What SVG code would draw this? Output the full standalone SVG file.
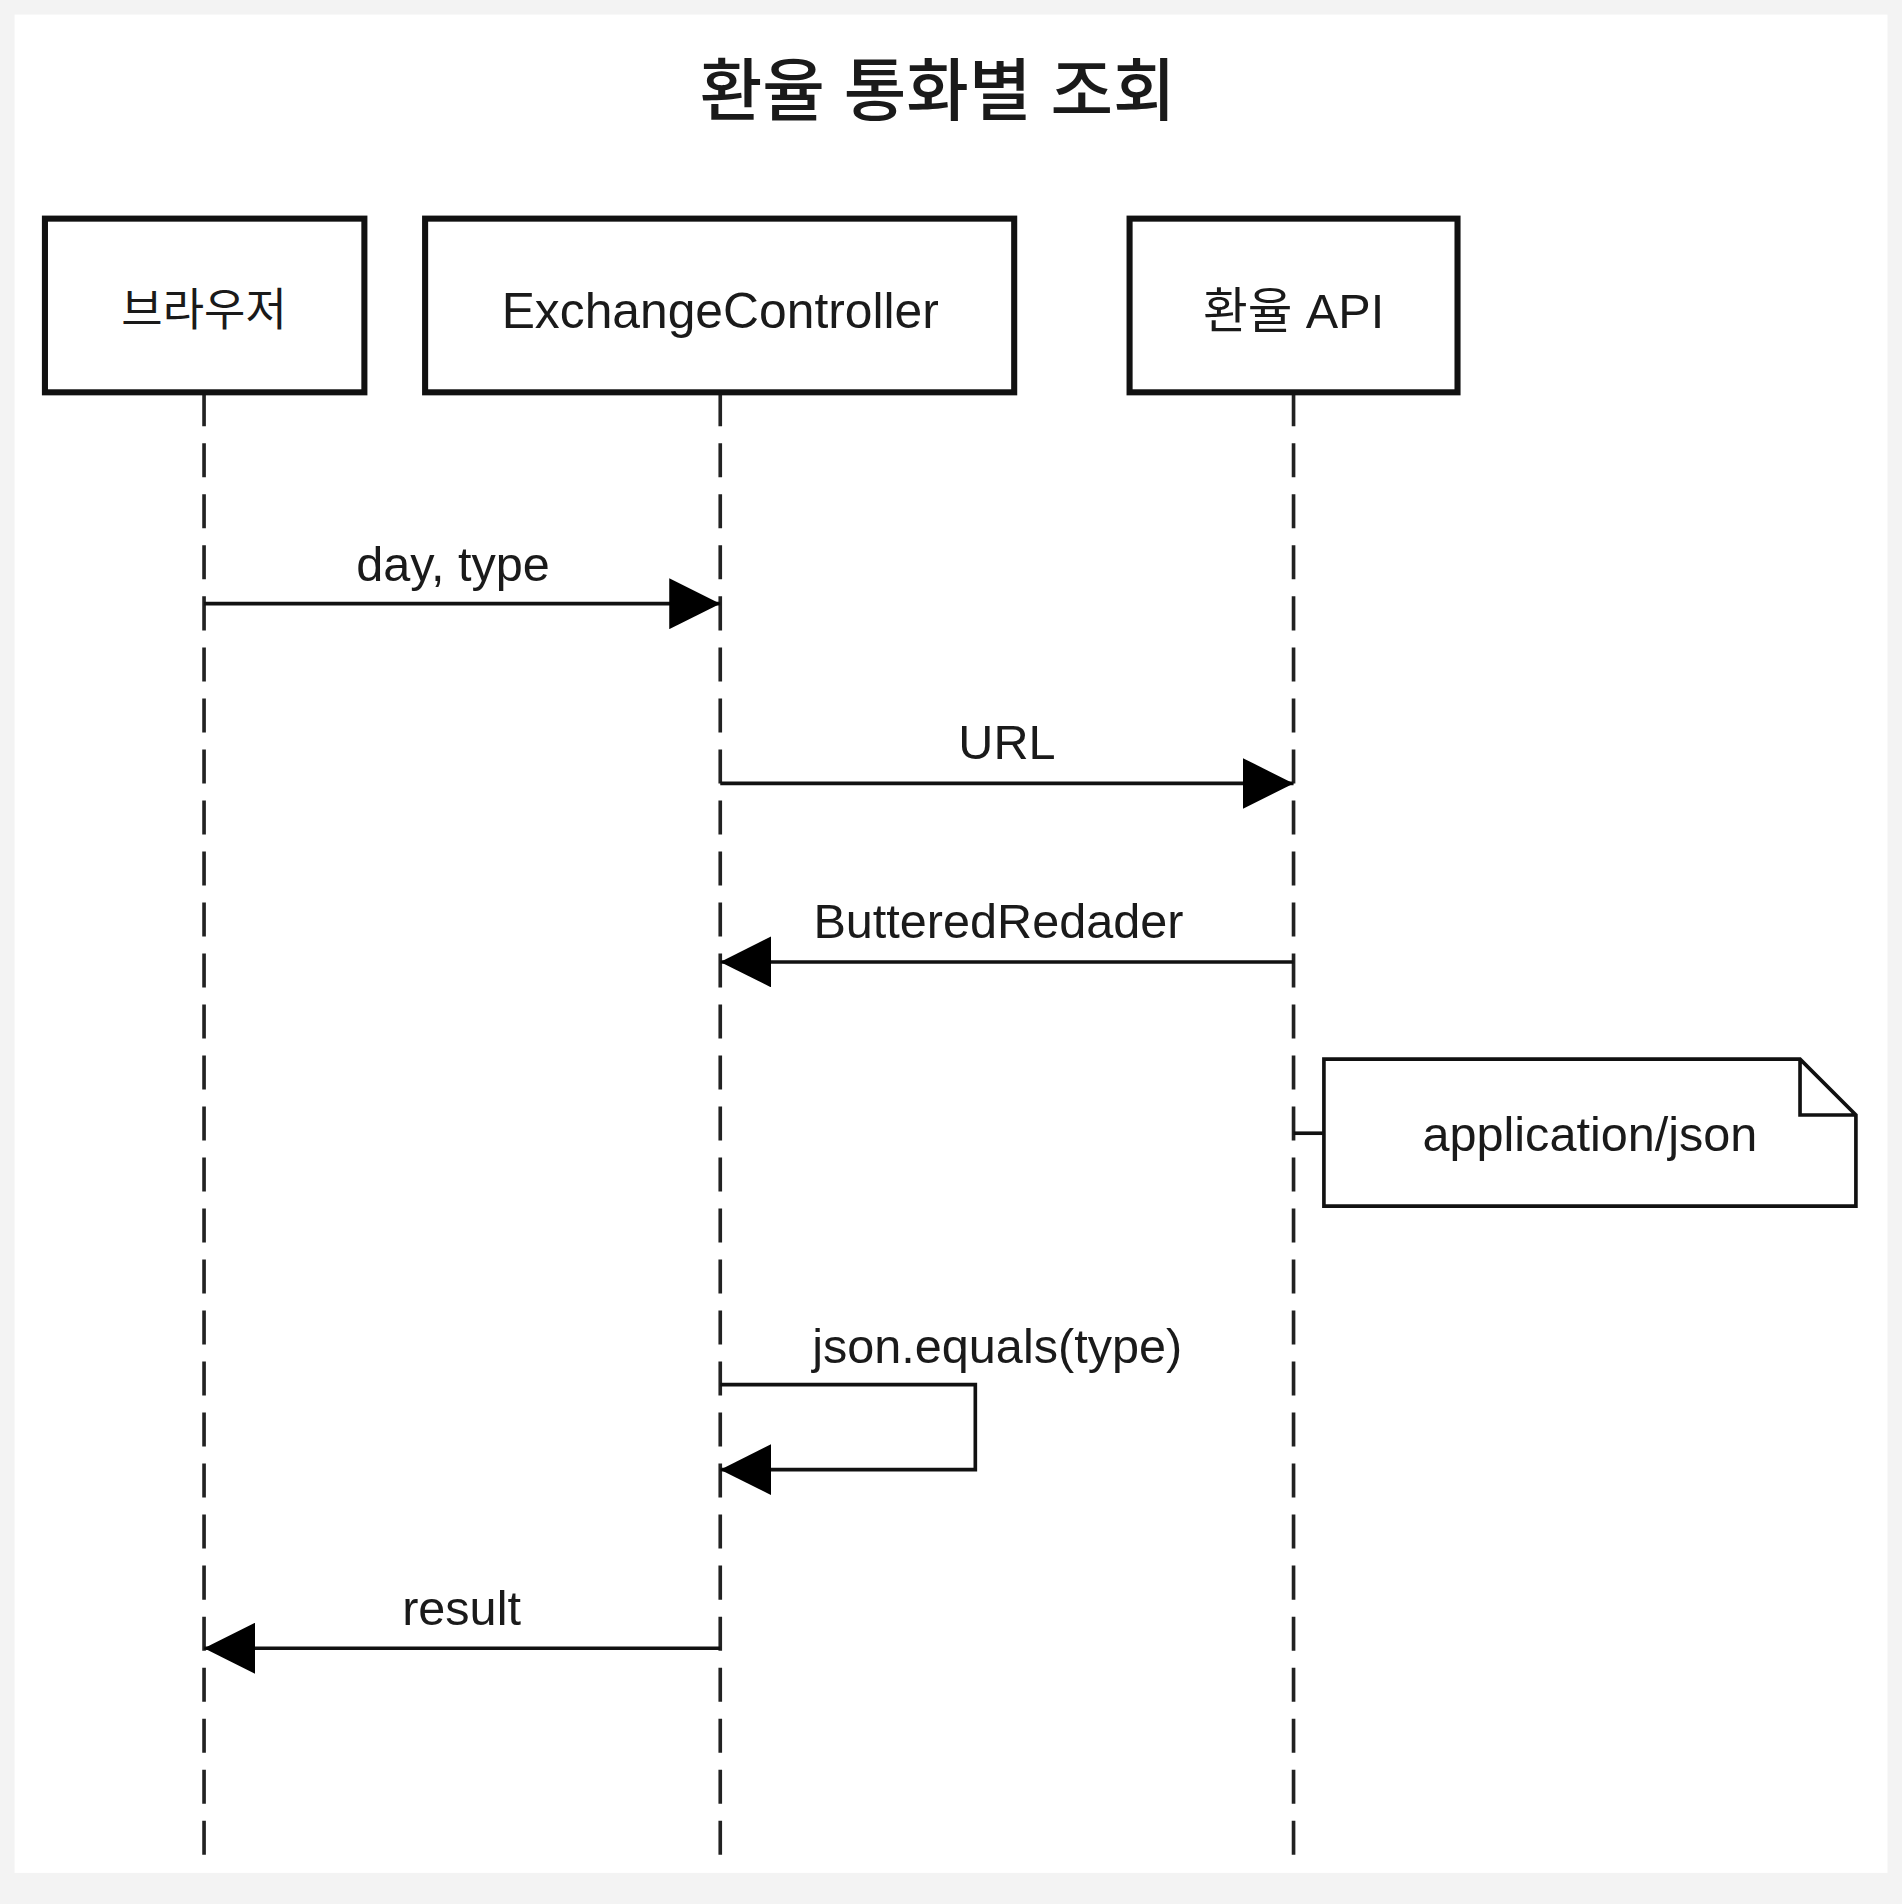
<svg xmlns="http://www.w3.org/2000/svg" width="1902" height="1904" viewBox="0 0 1902 1904">
<style>
.t{font-family:"Liberation Sans","Noto Sans CJK KR",sans-serif;fill:#1a1a1a;text-anchor:middle}
.box{fill:#fff;stroke:#111;stroke-width:5}
.life{stroke:#222;stroke-width:3;stroke-dasharray:28 14;fill:none}
.msg{stroke:#111;stroke-width:3;fill:none}
</style>
<defs><marker id="a" markerUnits="userSpaceOnUse" markerWidth="44" markerHeight="42" refX="42" refY="21" orient="auto"><path d="M0,0 L42,21 L0,42 Z" fill="#000"/></marker></defs>
<rect width="1902" height="1904" fill="#f3f3f3"/>
<g transform="scale(1.2146)">
<rect x="12" y="12" width="1542" height="1530" fill="#fff"/>
<text class="t" x="772" y="95" font-size="56" font-weight="500">환율 통화별 조회</text>
<g id="lifelines">
<line class="life" x1="168" y1="323" x2="168" y2="1528"/>
<line class="life" x1="593" y1="323" x2="593" y2="1528"/>
<line class="life" x1="1065" y1="323" x2="1065" y2="1528"/>
</g>
<g id="browser"><rect class="box" x="37" y="180" width="263" height="143"/><text class="t" x="168" y="268" font-size="37">브라우저</text></g>
<g id="controller"><rect class="box" x="350" y="180" width="485" height="143"/><text class="t" x="593" y="270" font-size="41">ExchangeController</text></g>
<g id="api"><rect class="box" x="930" y="180" width="270" height="143"/><text class="t" x="1065" y="270" font-size="40">환율 API</text></g>
<g id="note"><path d="M1090,872 H1482 L1528,918 V993 H1090 Z M1482,872 V918 H1528" fill="#fff" stroke="#111" stroke-width="3"/><text class="t" x="1309" y="948" font-size="40">application/json</text></g>
<g id="connectors">
<line class="msg" x1="168" y1="497" x2="593" y2="497" marker-end="url(#a)"/>
<text class="t" x="373" y="478" font-size="40">day, type</text>
<line class="msg" x1="593" y1="645" x2="1065" y2="645" marker-end="url(#a)"/>
<text class="t" x="829" y="625" font-size="40">URL</text>
<line class="msg" x1="1065" y1="792" x2="593" y2="792" marker-end="url(#a)"/>
<text class="t" x="822" y="772" font-size="40">ButteredRedader</text>
<line class="msg" x1="1065" y1="933" x2="1090" y2="933"/>
<path class="msg" d="M593,1140 H803 V1210 H593" marker-end="url(#a)"/>
<text class="t" x="821" y="1122" font-size="40">json.equals(type)</text>
<line class="msg" x1="593" y1="1357" x2="168" y2="1357" marker-end="url(#a)"/>
<text class="t" x="380" y="1338" font-size="40">result</text>
</g>
</g>
</svg>
